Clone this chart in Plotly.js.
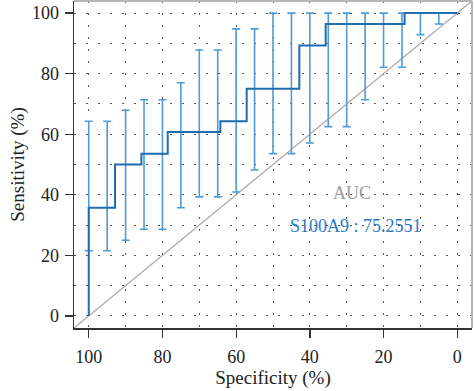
<!DOCTYPE html>
<html>
<head>
<meta charset="utf-8">
<script src="https://cdn.plot.ly/plotly-3.0.1.min.js"></script>
<style>html,body{margin:0;padding:0;background:#fff;}#chart{width:474px;height:391px;}</style>
</head>
<body>
<div id="chart"></div>
<script>
// ROC step curve (specificity %, sensitivity %)
const rocSpec = [100, 100, 92.86, 92.86, 85.71, 85.71, 78.57, 78.57, 64.29, 64.29, 57.14, 57.14, 42.86, 42.86, 35.71, 35.71, 14.29, 14.29, 0];
const rocSens = [0, 35.71, 35.71, 50, 50, 53.57, 53.57, 60.71, 60.71, 64.29, 64.29, 75, 75, 89.29, 89.29, 96.43, 96.43, 100, 100];

// Confidence intervals of sensitivity at given specificities
const ciSpec = [100, 95, 90, 85, 80, 75, 70, 65, 60, 55, 50, 45, 40, 35, 30, 25, 20, 15, 10, 5];
const ciLow  = [21.5, 21.5, 25.0, 28.6, 28.6, 35.7, 39.3, 39.3, 40.9, 48.2, 53.6, 53.6, 57.1, 62.5, 62.5, 71.4, 82.1, 82.1, 92.9, 96.4];
const ciHigh = [64.3, 64.3, 67.9, 71.4, 71.4, 77.0, 87.8, 87.8, 94.8, 94.8, 100, 100, 100, 100, 100, 100, 100, 100, 100, 100];

// Chance diagonal
const diagX = [104, -4];
const diagY = [-4, 104];

const tickVals = [0, 20, 40, 60, 80, 100];
const markerName = "S100A9";
const aucValue = "75.2551";

const serif = "Liberation Serif, Times New Roman, serif";
const gridDash = "1.5px,10.5px";

const traces = [
  {
    x: diagX, y: diagY, mode: "lines", type: "scatter",
    line: {color: "#a8a8a8", width: 1.3}, hoverinfo: "skip", showlegend: false
  },
  {
    x: ciSpec, y: ciLow, mode: "markers", type: "scatter",
    marker: {size: 1, opacity: 0},
    error_y: {
      type: "data", symmetric: false,
      array: ciHigh.map((h, i) => h - ciLow[i]),
      arrayminus: ciLow.map(() => 0),
      color: "#4f9bd6", thickness: 1.6, width: 4
    },
    showlegend: false
  },
  {
    x: rocSpec, y: rocSens, mode: "lines", type: "scatter",
    line: {color: "#1f6cb0", width: 2}, showlegend: false
  }
];

const axisCommon = {
  tickvals: tickVals,
  ticks: "outside", ticklen: 8, tickwidth: 1.3, tickcolor: "#333",
  showline: true, linecolor: "#333", linewidth: 1.5,
  zeroline: false,
  showgrid: true, gridcolor: "#555", gridwidth: 1, griddash: gridDash,
  minor: {dtick: 10, tick0: 0, showgrid: true, gridcolor: "#555", gridwidth: 1, griddash: gridDash, ticks: ""},
  tickfont: {family: serif, size: 18, color: "#222"},
  fixedrange: true
};

const layout = {
  width: 474, height: 391,
  margin: {l: 74, r: 2, t: 1, b: 63},
  paper_bgcolor: "#fff", plot_bgcolor: "#fff",
  xaxis: Object.assign({}, axisCommon, {
    range: [104, -4],
    ticklabelstandoff: 4,
    title: {text: "Specificity (%)", font: {family: serif, size: 19, color: "#222"}, standoff: 4}
  }),
  yaxis: Object.assign({}, axisCommon, {
    range: [-4, 104],
    ticklabelstandoff: 2,
    title: {text: "Sensitivity (%)", font: {family: serif, size: 19, color: "#222"}, standoff: 2}
  }),
  shapes: [
    {type: "line", xref: "paper", yref: "paper", x0: 0, x1: 1, y0: 1, y1: 1, line: {color: "#b5b5b5", width: 2}},
    {type: "line", xref: "paper", yref: "paper", x0: 1, x1: 1, y0: 0, y1: 1, line: {color: "#b5b5b5", width: 2}}
  ],
  annotations: [
    {x: 28.6, y: 40.5, xref: "x", yref: "y", text: "AUC", showarrow: false,
     font: {family: serif, size: 18, color: "#9a9a9a"}},
    {x: 27.6, y: 29.8, xref: "x", yref: "y", text: markerName + " : " + aucValue, showarrow: false,
     font: {family: serif, size: 18, color: "#2a78c0"}}
  ]
};

Plotly.newPlot("chart", traces, layout, {displayModeBar: false, staticPlot: true});
</script>
</body>
</html>
